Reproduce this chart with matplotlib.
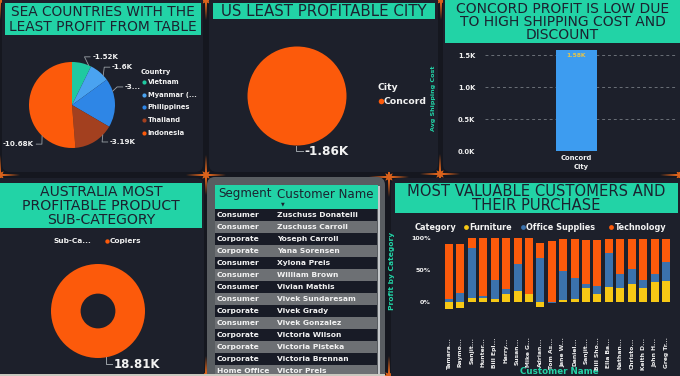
import numpy as np
import matplotlib
matplotlib.use('Agg')
import matplotlib.pyplot as plt
from matplotlib.patches import FancyBboxPatch, Rectangle, Polygon

# ---- data ----
sea_countries = ['Vietnam', 'Myanmar (...', 'Philippines', 'Thailand', 'Indonesia']
sea_profit = [-1.52, -1.6, -3.84, -3.19, -10.68]
sea_labels = ['-1.52K', '-1.6K', '-3...', '-3.19K', '-10.68K']

us_city = ['Concord']
us_profit = [-1.86]

ship_city = ['Concord']
ship_cost = [1.58]

au_subcat = ['Copiers']
au_profit = [18.81]

segments = ['Consumer', 'Consumer', 'Corporate', 'Corporate', 'Consumer', 'Consumer',
            'Consumer', 'Consumer', 'Corporate', 'Consumer', 'Corporate', 'Corporate',
            'Corporate', 'Home Office']
cust_names = ['Zuschuss Donatelli', 'Zuschuss Carroll', 'Yoseph Carroll', 'Yana Sorensen',
              'Xylona Preis', 'William Brown', 'Vivian Mathis', 'Vivek Sundaresam',
              'Vivek Grady', 'Vivek Gonzalez', 'Victoria Wilson', 'Victoria Pisteka',
              'Victoria Brennan', 'Victor Preis']

customers = ['Tamara...', 'Raymo...', 'Sanjit...', 'Hunter...', 'Bill Epl...', 'Harry...',
             'Susan...', 'Mike G...', 'Adrian...', 'Tom As...', 'Jane W...', 'Daniel...',
             'Sanjit...', 'Bill Sho...', 'Ella Ba...', 'Nathan...', 'Christo...', 'Keith D...',
             'John H...', 'Greg Tr...']
furniture = [-0.11, -0.10, 0.06, 0.06, 0.04, 0.13, 0.17, 0.12, -0.08, 0.00,
             0.03, 0.04, 0.22, 0.13, 0.24, 0.22, 0.28, 0.22, 0.31, 0.33]
office = [0.04, 0.14, 0.78, 0.03, 0.31, 0.08, 0.43, 0.00, 0.69, -0.02,
          0.45, 0.33, 0.06, 0.12, 0.52, 0.22, 0.24, 0.13, 0.13, 0.30]
technology = [0.86, 0.76, 0.16, 0.91, 0.65, 0.79, 0.40, 0.88, 0.23, 0.96,
              0.50, 0.61, 0.69, 0.72, 0.22, 0.54, 0.46, 0.63, 0.54, 0.35]

# ---- style ----
W, H = 680, 376
TEAL = '#22d3a6'
ORANGE = '#fc5a0b'
PANEL = '#1d202b'
BACK = '#15171f'
TITLE_C = '#1b2230'
WHITE = '#f2f2f2'
LEAD = '#9aa0a6'

fig = plt.figure(figsize=(W / 100, H / 100), dpi=100, facecolor=BACK)
bg = fig.add_axes([0, 0, 1, 1])
bg.set_xlim(0, W)
bg.set_ylim(H, 0)
bg.axis('off')


def ax_at(x0, y0, x1, y1):
    return fig.add_axes([x0 / W, 1 - y1 / H, (x1 - x0) / W, (y1 - y0) / H])


def star(cx, cy, r, c='#d9621c'):
    pts = []
    for k in range(16):
        a = np.pi / 2 * k / 4
        rr = r if k % 4 == 0 else r * (0.14 + 0.12 * (k % 2 == 0))
        pts.append((cx + rr * np.cos(a), cy + rr * np.sin(a)))
    bg.add_patch(Polygon(pts, closed=True, color=c, lw=0))


for cx, cy in [(206, 175), (440, 174), (389, 177), (0, 175), (680, 175), (206, 0), (441, 0), (0, 0), (206, 376), (389, 376)]:
    star(cx, cy, 20)


def panel(x0, y0, x1, y1, c=PANEL):
    bg.add_patch(FancyBboxPatch((x0, y0), x1 - x0, y1 - y0,
                                boxstyle='round,pad=0,rounding_size=8', fc=c, ec='none'))


def title(x0, y0, x1, y1, txt, fs=10, ls=1.05):
    bg.add_patch(Rectangle((x0, y0), x1 - x0, y1 - y0, fc=TEAL, ec='none'))
    bg.text((x0 + x1) / 2, (y0 + y1) / 2 + 0.5, txt, ha='center', va='center',
            fontsize=fs, color=TITLE_C, linespacing=ls)


panel(2, -10, 203, 172)
panel(209, -10, 438, 172)
panel(443, -10, 690, 172)
panel(-10, 178, 204, 390)
panel(207, 177, 385, 390, c='#595d61')
panel(391, 178, 690, 390)

title(5, 3, 201, 35, 'SEA COUNTRIES WITH THE\nLEAST PROFIT FROM TABLE', fs=9.9)
title(213, 3, 435, 19, 'US LEAST PROFITABLE CITY', fs=10.8)
title(445, 0, 680, 43, 'CONCORD PROFIT IS LOW DUE\nTO HIGH SHIPPING COST AND\nDISCOUNT', fs=10.0, ls=0.95)
title(0, 183, 202, 228, 'AUSTRALIA MOST\nPROFITABLE PRODUCT\nSUB-CATEGORY', fs=10.1, ls=0.98)
title(395, 183, 678, 213, 'MOST VALUABLE CUSTOMERS AND\nTHEIR PURCHASE', fs=10.6, ls=1.0)

# ---- panel 1: SEA pie ----
sea_colors = ['#1fc9a0', '#4aa3f0', '#2e86e6', '#a3401f', ORANGE]
ax1 = ax_at(72 - 43, 105 - 43, 72 + 43, 105 + 43)
vals = np.abs(sea_profit)
ax1.pie(vals, colors=sea_colors, startangle=90, counterclock=False,
        wedgeprops=dict(linewidth=0))
ax1.set_xlim(-1, 1)
ax1.set_ylim(-1, 1)
ax1.axis('off')
frac = vals / vals.sum()
cum = np.concatenate([[0], np.cumsum(frac)])
txt_pos = [(0.47, 1.12), (0.93, 0.88), (1.23, 0.42), (0.88, -0.86), (-0.88, -0.91)]
for i, (tx, ty) in enumerate(txt_pos):
    a_start = 90 - 360 * cum[i]
    a_end = 90 - 360 * cum[i + 1]
    ang = np.degrees(np.arctan2(ty, tx))
    while ang > a_start:
        ang -= 360
    while ang < a_end:
        ang += 360
    ang = min(max(ang, a_end + 3), a_start - 3)
    ex, ey = np.cos(np.radians(ang)), np.sin(np.radians(ang))
    sgn = 1 if tx > 0 else -1
    ax1.plot([ex, tx - sgn * 0.18, tx - sgn * 0.05], [ey, ty, ty],
             color=LEAD, lw=0.6, clip_on=False)
    ax1.text(tx, ty, sea_labels[i], ha='left' if sgn > 0 else 'right', va='center',
             fontsize=5.1, color=WHITE, fontweight='bold', clip_on=False)

bg.text(141, 72, 'Country', fontsize=4.9, color=WHITE, fontweight='bold', va='center')
for i, name in enumerate(sea_countries):
    yy = 82 + i * 12.7
    bg.scatter([144], [yy], s=9, color=sea_colors[i], lw=0)
    bg.text(147.5, yy, name, fontsize=4.9, color=WHITE, fontweight='bold', va='center')

# ---- panel 2: US city pie ----
ax2 = ax_at(297 - 49.5, 96 - 49.5, 297 + 49.5, 96 + 49.5)
ax2.pie(np.abs(us_profit), colors=[ORANGE], wedgeprops=dict(linewidth=0))
ax2.set_xlim(-1, 1)
ax2.set_ylim(-1, 1)
ax2.axis('off')
ax2.plot([-0.02, -0.02, 0.12], [-1.0, -1.12, -1.12], color=LEAD, lw=0.7, clip_on=False)
ax2.text(0.15, -1.12, '%.2fK' % us_profit[0], fontsize=8.7, color=WHITE,
         fontweight='bold', va='center', ha='left', clip_on=False)
bg.text(377, 88, 'City', fontsize=6.7, color=WHITE, fontweight='bold', va='center')
bg.scatter([381], [101], s=16, color=ORANGE, lw=0)
bg.text(384, 101, us_city[0], fontsize=6.7, color=WHITE, fontweight='bold', va='center')

# ---- panel 3: shipping cost bar ----
ax3 = ax_at(485, 45.4, 678, 151)
ax3.set_facecolor('none')
ax3.bar([0], ship_cost, width=0.212, color='#3d9cf0', zorder=3)
ax3.set_xlim(-0.474, 0.526)
ax3.set_ylim(0, 1.65)
ax3.set_yticks([0, 0.5, 1.0, 1.5])
ax3.set_yticklabels(['0.0K', '0.5K', '1.0K', '1.5K'])
ax3.set_xticks([0])
ax3.set_xticklabels(ship_city)
ax3.grid(axis='y', color='#6b7078', ls=(0, (3, 3)), lw=0.7)
for s in ax3.spines.values():
    s.set_visible(False)
ax3.tick_params(length=0, colors=WHITE, labelsize=4.9, pad=7)
for lab in ax3.get_xticklabels() + ax3.get_yticklabels():
    lab.set_fontweight('bold')
ax3.tick_params(axis='x', pad=3)
ax3.set_xlabel('City', fontsize=4.9, color=WHITE, fontweight='bold', labelpad=2)
ax3.set_ylabel('Avg Shipping Cost', fontsize=4.6, color=TEAL, fontweight='bold', labelpad=16)
ax3.text(0, ship_cost[0] - 0.09, '%.2fK' % ship_cost[0], ha='center', va='center',
         fontsize=4.3, color='#e8c547', fontweight='bold', zorder=4)

# ---- panel 4: Australia donut ----
ax4 = ax_at(98 - 47, 311 - 47, 98 + 47, 311 + 47)
ax4.pie(au_profit, colors=[ORANGE], wedgeprops=dict(width=0.63, linewidth=0))
ax4.set_xlim(-1, 1)
ax4.set_ylim(-1, 1)
ax4.axis('off')
ax4.plot([0.17, 0.17, 0.3], [-0.98, -1.13, -1.13], color=LEAD, lw=0.7, clip_on=False)
ax4.text(0.34, -1.13, '%.2fK' % au_profit[0], fontsize=8.5, color=WHITE,
         fontweight='bold', va='center', ha='left', clip_on=False)
bg.text(54, 241, 'Sub-Ca...', fontsize=5.3, color=WHITE, fontweight='bold', va='center')
bg.scatter([107], [241], s=10, color=ORANGE, lw=0)
bg.text(110, 241, au_subcat[0], fontsize=5.3, color=WHITE, fontweight='bold', va='center')

# ---- panel 5: table ----
bg.add_patch(Rectangle((215, 185), 163, 24, fc=TEAL, ec='none'))
bg.text(218, 194, 'Segment', fontsize=8.6, color=TITLE_C, va='center')
bg.text(277, 194, 'Customer Name', fontsize=8.6, color=TITLE_C, va='center')
bg.text(283, 204, '\u25bc', fontsize=3.5, color=TITLE_C, va='center', ha='center')
row_h = 12
for i, (sg, nm) in enumerate(zip(segments, cust_names)):
    y0 = 209 + i * row_h
    bg.add_patch(Rectangle((215, y0), 162, row_h, fc='#181b26' if i % 2 == 0 else '#6d7074', ec='none'))
    bg.text(217, y0 + row_h / 2, sg, fontsize=5.4, color=WHITE, fontweight='bold', va='center')
    bg.text(277, y0 + row_h / 2, nm, fontsize=5.4, color=WHITE, fontweight='bold', va='center')
bg.add_patch(Rectangle((377.5, 186), 2, 190, fc='#c4c7ca', ec='none'))
bg.add_patch(Rectangle((0, 373.5), 385, 3, fc='#c9c8bf', ec='none'))

# ---- panel 6: 100% stacked bars ----
ax6 = ax_at(442.1, 231.6, 672.9, 311)
ax6.set_facecolor('none')
x = np.arange(len(customers))
pos = np.zeros(len(x))
neg = np.zeros(len(x))
for vals6, col in [(furniture, '#f7c815'), (office, '#3b72ad'), (technology, ORANGE)]:
    v = np.array(vals6)
    bottom = np.where(v >= 0, pos, neg)
    ax6.bar(x, v, bottom=bottom, width=0.7, color=col, lw=0)
    pos += np.clip(v, 0, None)
    neg += np.clip(v, None, 0)
ax6.set_xlim(-0.6, len(x) - 0.4)
ax6.set_ylim(-0.14, 1.1)
ax6.set_yticks([0, 0.5, 1.0])
ax6.set_yticklabels(['0%', '50%', '100%'])
ax6.set_xticks(x)
ax6.set_xticklabels(customers, rotation=90, va='top', ha='center')
for s in ax6.spines.values():
    s.set_visible(False)
ax6.tick_params(length=0, colors=WHITE, labelsize=4.6)
ax6.tick_params(axis='x', pad=19, labelsize=4.3)
ax6.tick_params(axis='y', pad=8)
for lab in ax6.get_xticklabels() + ax6.get_yticklabels():
    lab.set_fontweight('bold')
ax6.set_ylabel('Profit by Category', fontsize=5.4, color=TEAL, fontweight='bold', labelpad=12)
bg.text(559, 372, 'Customer Name', fontsize=6.3, color=TEAL, fontweight='bold', ha='center', va='center')

bg.text(415, 227, 'Category', fontsize=5.9, color=WHITE, fontweight='bold', va='center')
for xx, lab, col in [(466, 'Furniture', '#f7c815'), (523, 'Office Supplies', '#3b72ad'),
                     (611, 'Technology', ORANGE)]:
    bg.scatter([xx], [227], s=12, color=col, lw=0)
    bg.text(xx + 3.5, 227, lab, fontsize=5.9, color=WHITE, fontweight='bold', va='center')

fig.savefig('out.png', dpi=100, facecolor=BACK)
